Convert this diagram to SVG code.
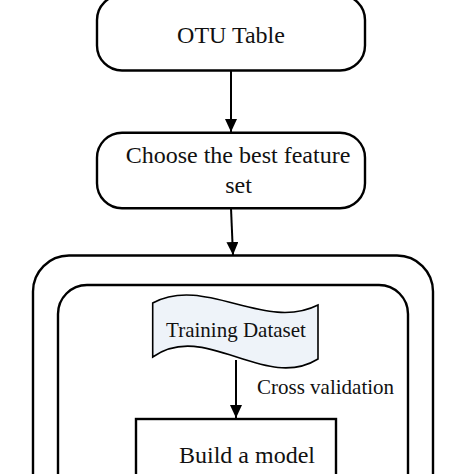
<svg xmlns="http://www.w3.org/2000/svg" width="474" height="474" viewBox="0 0 474 474">
<defs>
<marker id="ah" markerWidth="13" markerHeight="12" refX="13" refY="6" orient="auto" markerUnits="userSpaceOnUse" viewBox="0 0 13 12">
<path d="M0,0 L13,6 L0,12 Z" fill="#000"/>
</marker>
<style>
.box{fill:#fff;stroke:#000;stroke-width:2.4}
.t{font-family:"Liberation Serif","Times New Roman",serif;fill:#111}
.c{stroke:#000;stroke-width:2;fill:none}
</style>
</defs>
<rect width="474" height="474" fill="#fff"/>
<g id="outer">
<rect class="box" x="33" y="255.5" width="400" height="260" rx="36" ry="36"/>
</g>
<g id="inner">
<rect class="box" x="58" y="285" width="350" height="230" rx="29" ry="29"/>
</g>
<g id="otu">
<rect class="box" x="97" y="-5" width="268" height="75.5" rx="25" ry="25"/>
<text class="t" x="231" y="43" font-size="24" text-anchor="middle">OTU Table</text>
</g>
<g id="choose">
<rect class="box" x="97" y="132.7" width="268" height="75.5" rx="25" ry="25"/>
<text class="t" x="238" y="163" font-size="24" text-anchor="middle">Choose the best feature</text>
<text class="t" x="238.5" y="193" font-size="24" text-anchor="middle">set</text>
</g>
<g id="training">
<path d="M152.7,303 C205,275 265,332 318,305 L318,359 C265,392 205,320 152.7,357 Z" fill="#eef3f9" stroke="#000" stroke-width="1.6"/>
<text class="t" x="236" y="337" font-size="21" text-anchor="middle">Training Dataset</text>
</g>
<g id="build">
<rect class="box" x="136" y="419" width="200" height="80"/>
<text class="t" x="247" y="463" font-size="24" text-anchor="middle">Build a model</text>
</g>
<g id="connectors">
<line class="c" x1="231" y1="70.5" x2="231" y2="132" marker-end="url(#ah)"/>
<line class="c" x1="231" y1="208.2" x2="233" y2="255" marker-end="url(#ah)"/>
<line class="c" x1="236" y1="360" x2="236" y2="418" marker-end="url(#ah)"/>
<text class="t" x="257" y="394" font-size="21">Cross validation</text>
</g>
</svg>
